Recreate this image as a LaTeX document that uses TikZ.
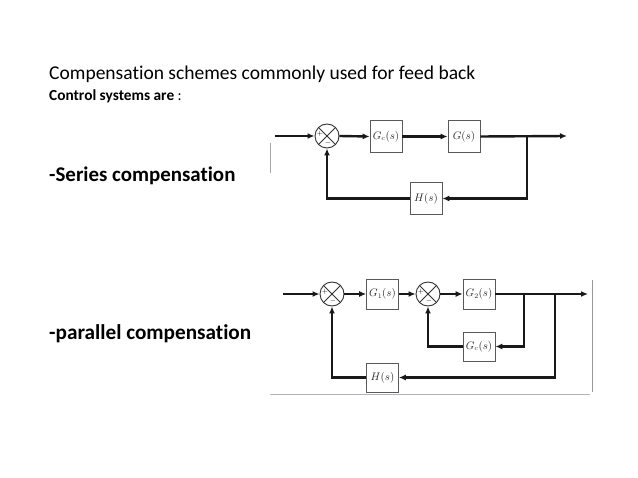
\documentclass[tikz,border=0pt]{standalone}
\usepackage{fontspec}
\setmainfont[Ligatures={NoCommon,NoContextual}]{Carlito}
\usetikzlibrary{arrows.meta}
\begin{document}
\begin{tikzpicture}[x=1bp,y=-1bp,
  blk/.style={draw=black!65, line width=0.7bp, minimum width=32bp, minimum height=32bp, inner sep=0pt, text=black!85, font=\fontsize{10.5}{11}\selectfont},
  sum/.style={circle, draw=black!80, line width=0.9bp, minimum size=24bp, inner sep=0pt,
    path picture={\draw[black!80, line width=0.8bp] (path picture bounding box.north west) -- (path picture bounding box.south east)
      (path picture bounding box.north east) -- (path picture bounding box.south west);}},
  sig/.style={line width=2.4bp, draw=black!90},
  arr/.style={sig, -{Latex[length=7bp,width=6bp]}},
  sgn/.style={font=\fontsize{7.5}{7.5}\selectfont, inner sep=0pt, text=black},
  ttl/.style={anchor=base west, inner sep=0pt}
]
\useasboundingbox (0,0) rectangle (638,478);
\fill[white] (0,0) rectangle (638,478);

% texts
\node[ttl, font=\fontsize{19.6}{21}\selectfont] (t1) at (49,80) {Compensation schemes commonly used for feed back};
\node[ttl, font=\fontsize{15.4}{17}\selectfont] (t2) at (49,101) {\textbf{Control systems are} :};
\node[ttl, font=\bfseries\fontsize{21}{23}\selectfont] (t3) at (49,182) {-Series compensation};
\node[ttl, font=\bfseries\fontsize{21.3}{23}\selectfont] (t4) at (49,339) {-parallel compensation};

% ---------- series ----------
\draw[black!35, line width=0.6bp] (270,143) -- (270,173);
\coordinate (in1) at (275,136);
\node[sum] (s1) at (327,136) {};
\node[sgn] at ([shift={(-7,-2)}]s1.center) {$+$};
\node[sgn] at ([shift={(1,7)}]s1.center) {$-$};
\node[blk] (gc) at (386,136.5) {$G_c(s)$};
\node[blk] (g) at (464,136.5) {$G(s)$};
\node[blk] (h) at (426,198.5) {$H(s)$};
\coordinate (br1) at (527,136);
\coordinate (out1) at (567,136);

\draw[arr] (in1) -- (s1.west);
\draw[arr] (s1.east) -- (gc.west);
\draw[arr] (gc.east) -- (g.west);
\draw[arr] (g.east) -- (out1);
\draw[arr] (br1) |- (h.east);
\draw[arr] (h.west) -| (s1.south);

% ---------- parallel ----------
\draw[black!40, line width=0.6bp] (592,280) -- (592,392);
\draw[blue!25!black!30, line width=0.8bp] (270,394) -- (590,394);
\coordinate (in2) at (283,294);
\node[sum] (s2) at (332,294) {};
\node[sgn] at ([shift={(-7,-2)}]s2.center) {$+$};
\node[sgn] at ([shift={(1,7)}]s2.center) {$-$};
\node[blk, minimum height=30bp] (g1) at (382.5,294) {$G_1(s)$};
\node[sum] (s3) at (428,294) {};
\node[sgn] at ([shift={(-7,-2)}]s3.center) {$+$};
\node[sgn] at ([shift={(1,7)}]s3.center) {$-$};
\node[blk, minimum height=30bp] (g2) at (479,294) {$G_2(s)$};
\node[blk, minimum height=29bp] (gc2) at (479,346.5) {$G_c(s)$};
\node[blk, minimum height=29bp] (h2) at (382.5,377.5) {$H(s)$};
\coordinate (br2) at (524,294);
\coordinate (br3) at (555,294);
\coordinate (out2) at (588,294);

\draw[arr] (in2) -- (s2.west);
\draw[arr] (s2.east) -- (g1.west);
\draw[arr] (g1.east) -- (s3.west);
\draw[arr] (s3.east) -- (g2.west);
\draw[arr] (g2.east) -- (out2);
\draw[arr] (br2) |- (gc2.east);
\draw[arr] (gc2.west) -| (s3.south);
\draw[arr] (br3) |- (h2.east);
\draw[arr] (h2.west) -| (s2.south);
\end{tikzpicture}
\end{document}
